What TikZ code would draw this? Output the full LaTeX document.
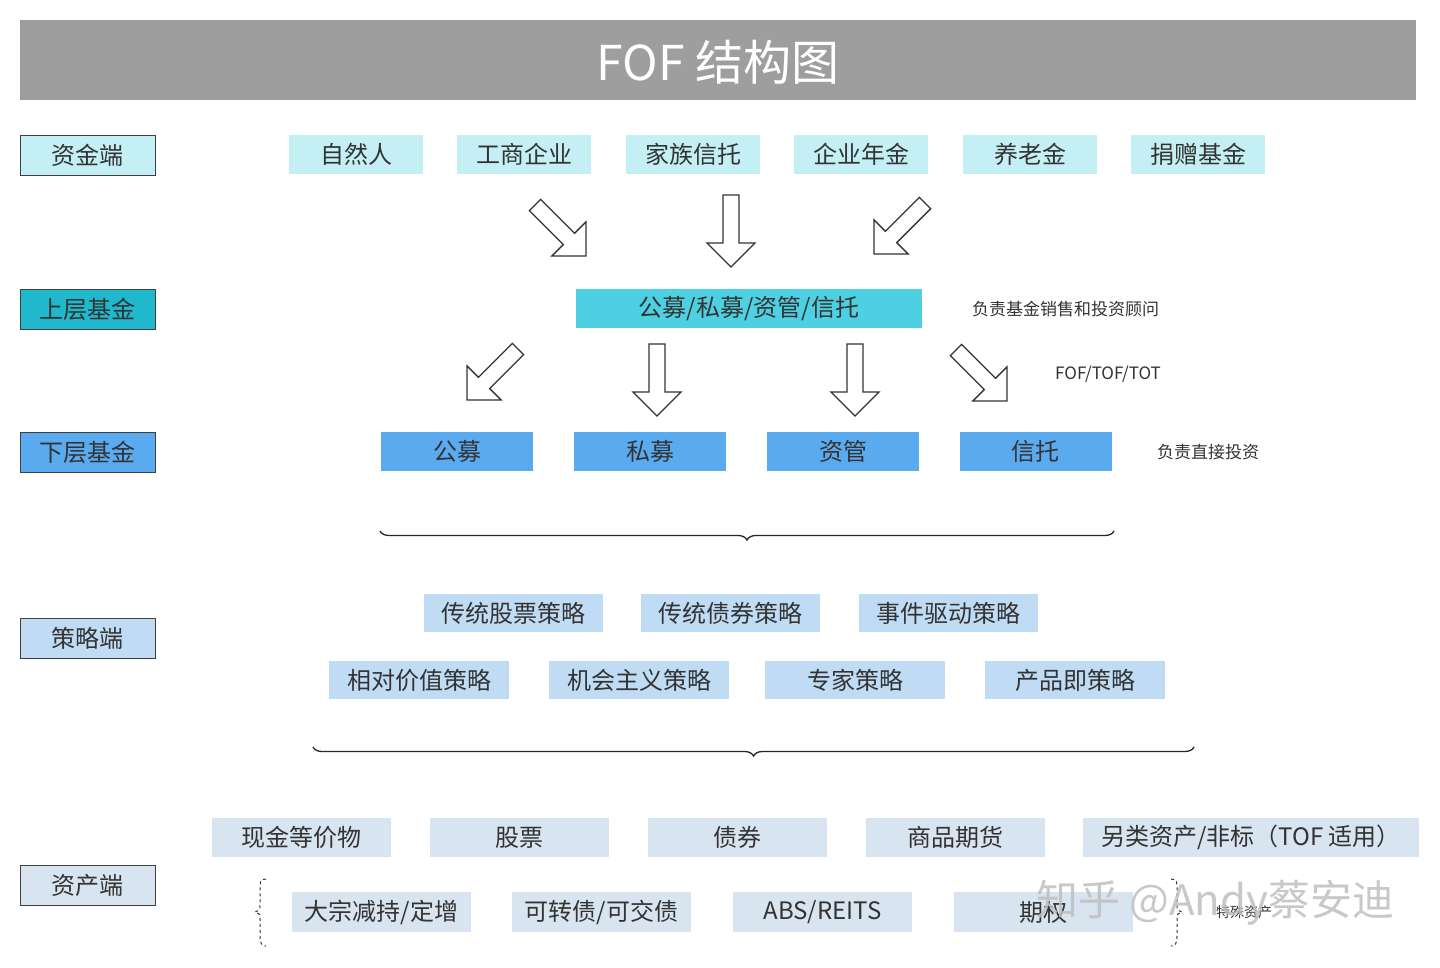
\documentclass[tikz,border=0pt]{standalone}
\usepackage{fontspec}
\setmainfont{Noto Sans CJK SC}
\usetikzlibrary{decorations.pathreplacing}
\definecolor{tc}{HTML}{333333}
\definecolor{ctop}{HTML}{C4F0F5}
\definecolor{cup}{HTML}{4DD0E1}
\definecolor{cupL}{HTML}{1FB8CC}
\definecolor{clow}{HTML}{5AAAF0}
\definecolor{cstr}{HTML}{C0DCF5}
\definecolor{cass}{HTML}{D8E4EF}
\begin{document}
\begin{tikzpicture}[x=1pt,y=-1pt,
  box/.style={draw=none,inner sep=0pt,text=tc,font=\fontsize{24}{24}\selectfont},
  lab/.style={draw=black!75,line width=1pt,inner sep=0pt,minimum width=135pt,minimum height=40pt,text=tc,font=\fontsize{24}{24}\selectfont},
  note/.style={inner sep=0pt,anchor=west,text=tc,font=\fontsize{17}{17}\selectfont},
  barr/.pic={\draw[line width=1.3pt,fill=white,draw=black!80] (-8,0)--(-8,48)--(-24,48)--(0,72)--(24,48)--(8,48)--(8,0)--cycle;},
  brc/.style={decorate,decoration={brace,amplitude=9pt},line width=1.3pt,draw=black!85}
]
\useasboundingbox (0,0) rectangle (1440,967);
\fill[white] (0,0) rectangle (1440,967);
% title
\fill[black!38] (20,20) rectangle (1416,100);
\node[inner sep=0pt,text=white,font=\fontsize{48}{48}\selectfont] (title) at (718,62) {FOF 结构图};
% left labels
\node[lab,fill=ctop] (l1) at (87.5,155) {资金端};
\node[lab,fill=cupL] (l2) at (87.5,309) {上层基金};
\node[lab,fill=clow] (l3) at (87.5,452) {下层基金};
\node[lab,fill=cstr] (l4) at (87.5,638) {策略端};
\node[lab,fill=cass] (l5) at (87.5,885) {资产端};
% top row
\foreach \x/\t/\n in {356/自然人/a1,524/工商企业/a2,693/家族信托/a3,861/企业年金/a4,1030/养老金/a5,1198/捐赠基金/a6}
  \node[box,fill=ctop,minimum width=134pt,minimum height=39pt] (\n) at (\x,154.5) {\t};
% arrows row 1
\pic[rotate=45] at (535,205) {barr};
\pic at (731,195) {barr};
\pic[rotate=-45] at (925,203) {barr};
% upper
\node[box,fill=cup,minimum width=346pt,minimum height=39pt] (up) at (749,308.5) {公募/私募/资管/信托};
\node[note] (n1) at (972,309) {负责基金销售和投资顾问};
% arrows row 2
\pic[rotate=-45] at (518,349) {barr};
\pic at (657,344) {barr};
\pic at (855,344) {barr};
\pic[rotate=45] at (956,350) {barr};
\node[note] (n2) at (1055,374) {FOF/TOF/TOT};
% lower
\foreach \x/\t/\n in {457/公募/b1,650/私募/b2,843/资管/b3,1035.5/信托/b4}
  \node[box,fill=clow,minimum width=152pt,minimum height=39pt] (\n) at (\x,451.5) {\t};
\node[note] (n3) at (1157,452) {负责直接投资};
% brace 1
\coordinate (br1a) at (1114,531); \coordinate (br1b) at (380,531);
\draw[brc] (br1a) -- (br1b);
% strategies
\foreach \x/\t/\n in {513.5/传统股票策略/s1,730.5/传统债券策略/s2,948.5/事件驱动策略/s3}
  \node[box,fill=cstr,minimum width=179pt,minimum height=38pt] (\n) at (\x,613) {\t};
\foreach \x/\t/\n in {419/相对价值策略/s4,639/机会主义策略/s5,855/专家策略/s6,1075/产品即策略/s7}
  \node[box,fill=cstr,minimum width=180pt,minimum height=38pt] (\n) at (\x,680) {\t};
% brace 2
\coordinate (br2a) at (1194,747); \coordinate (br2b) at (313,747);
\draw[brc] (br2a) -- (br2b);
% assets
\foreach \x/\t/\n in {301.5/现金等价物/c1,519.5/股票/c2,737.5/债券/c3,955.5/商品期货/c4}
  \node[box,fill=cass,minimum width=179pt,minimum height=39pt] (\n) at (\x,837.5) {\t};
\node[box,fill=cass,minimum width=336pt,minimum height=39pt] (c5) at (1251,837.5) {另类资产/非标（TOF 适用）};
\foreach \x/\t/\n in {381.5/{大宗减持/定增}/d1,601.5/{可转债/可交债}/d2,822.5/{ABS/REITS}/d3,1043.5/期权/d4}
  \node[box,fill=cass,minimum width=179pt,minimum height=40pt] (\n) at (\x,912) {\t};
% dashed brackets
\draw[dashed,line width=1pt,draw=black!80] (266,879) .. controls (260,879) and (260,882) .. (260,890) -- (260,905) .. controls (260,910) .. (255,912) .. controls (260,914) .. (260,919) -- (260,936) .. controls (260,944) and (262,946) .. (266,946);
\draw[dashed,line width=1pt,draw=black!80] (1171,879) .. controls (1177,879) and (1177,882) .. (1177,890) -- (1177,905) .. controls (1177,910) .. (1182,912) .. controls (1177,914) .. (1177,919) -- (1177,936) .. controls (1177,944) and (1175,946) .. (1171,946);
\node[note,font=\fontsize{14}{14}\selectfont] (n4) at (1216,912) {特殊资产};
% watermark
\node[inner sep=0pt,anchor=west,text=black!25,opacity=0.85,font=\fontsize{42}{42}\selectfont] (wm) at (1036,903) {知乎 @Andy蔡安迪};
\end{tikzpicture}
\end{document}
